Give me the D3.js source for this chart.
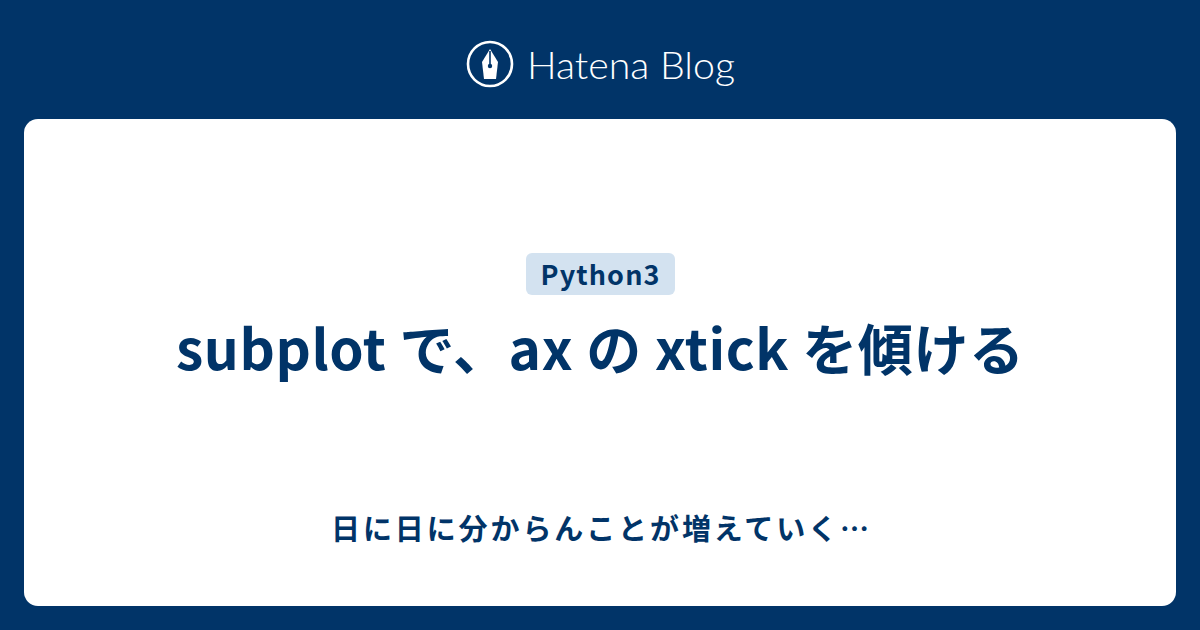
<!DOCTYPE html>
<html>
<head>
<meta charset="utf-8">
<script src="https://cdn.jsdelivr.net/npm/d3@7"></script>
<style>
  html, body { margin: 0; padding: 0; background: #013468; }
  svg { display: block; }
</style>
</head>
<body>
<div id="card"></div>
<script>
var WIDTH = 1200;
var HEIGHT = 630;
var NAVY = '#013468';

// texts on the card
var brand = ['Hatena Blog'];
var tags = ['Python3'];
var titles = ['subplot で、ax の xtick を傾ける'];
var blogNames = ['日に日に分からんことが増えていく…'];

var svg = d3.select('#card').append('svg')
  .attr('width', WIDTH)
  .attr('height', HEIGHT);

svg.append('rect')
  .attr('width', WIDTH)
  .attr('height', HEIGHT)
  .attr('fill', NAVY);

// logo
var logo = svg.append('g').attr('transform', 'translate(490,64)');
logo.append('circle')
  .attr('r', 22)
  .attr('fill', 'none')
  .attr('stroke', '#fff')
  .attr('stroke-width', 2.6);
// pen nib
logo.append('path')
  .attr('d', 'M0,-15 L8,-2 L6,15 L-6,15 L-8,-2 Z')
  .attr('fill', '#fff');
logo.append('path')
  .attr('d', 'M0,-13 L0,1')
  .attr('stroke', NAVY)
  .attr('stroke-width', 1.6);
logo.append('circle')
  .attr('cy', 2)
  .attr('r', 2.2)
  .attr('fill', NAVY);

svg.selectAll('.brand')
  .data(brand)
  .enter().append('text')
  .attr('class', 'brand')
  .attr('x', 527)
  .attr('y', 79)
  .attr('fill', '#fff')
  .attr('font-family', 'Lato, "Open Sans", sans-serif')
  .attr('font-weight', 300)
  .attr('font-size', 38)
  .attr('textLength', 208)
  .attr('lengthAdjust', 'spacingAndGlyphs')
  .text(function(d) { return d; });

// white card
svg.append('rect')
  .attr('x', 24)
  .attr('y', 119)
  .attr('width', 1152)
  .attr('height', 487)
  .attr('rx', 14)
  .attr('fill', '#fff');

var jp = '"Noto Sans CJK JP", "Noto Sans", sans-serif';

// centred text, fitted to the width it takes in the picture
function centred(sel, width) {
  sel.attr('x', 600)
    .attr('text-anchor', 'middle')
    .attr('textLength', width)
    .attr('lengthAdjust', 'spacing');
}

var tag = svg.selectAll('.tag')
  .data(tags)
  .enter().append('g')
  .attr('class', 'tag');
tag.append('rect')
  .attr('x', 526)
  .attr('y', 253)
  .attr('width', 149)
  .attr('height', 42)
  .attr('rx', 6)
  .attr('fill', '#d3e2f0');
tag.append('text')
  .attr('y', 285)
  .attr('fill', NAVY)
  .attr('font-family', jp)
  .attr('font-weight', 700)
  .attr('font-size', 27)
  .text(function(d) { return d; })
  .call(centred, 119);

svg.selectAll('.title')
  .data(titles)
  .enter().append('text')
  .attr('class', 'title')
  .attr('y', 370)
  .attr('fill', NAVY)
  .attr('font-family', jp)
  .attr('font-weight', 700)
  .attr('font-size', 55)
  .text(function(d) { return d; })
  .call(centred, 848);

svg.selectAll('.blogname')
  .data(blogNames)
  .enter().append('text')
  .attr('class', 'blogname')
  .attr('y', 540)
  .attr('fill', NAVY)
  .attr('font-family', jp)
  .attr('font-weight', 700)
  .attr('font-size', 29)
  .text(function(d) { return d; })
  .call(centred, 538);
</script>
</body>
</html>
